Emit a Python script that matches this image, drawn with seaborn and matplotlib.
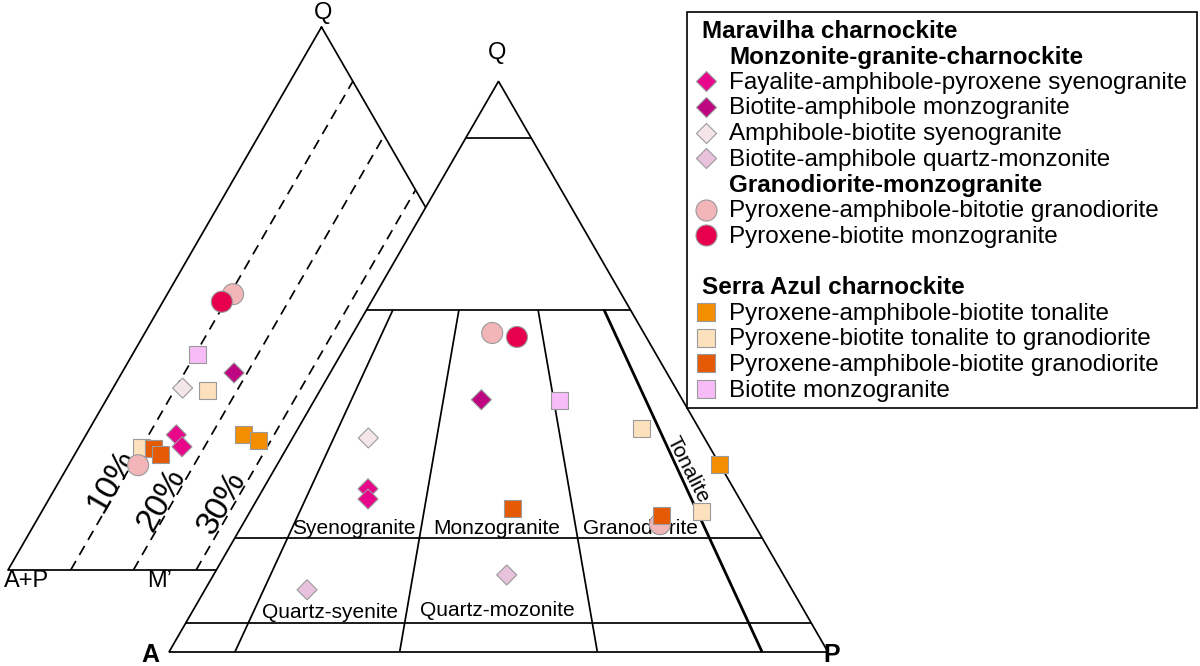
import numpy as np
import pandas as pd
import matplotlib
matplotlib.use("Agg")
import matplotlib.pyplot as plt
from matplotlib.patches import Polygon, Rectangle
import seaborn as sns

#rock types in legend order
rock_names = [
    "Fayalite-amphibole-pyroxene syenogranite",
    "Biotite-amphibole monzogranite",
    "Amphibole-biotite syenogranite",
    "Biotite-amphibole quartz-monzonite",
    "Pyroxene-amphibole-bitotie granodiorite",
    "Pyroxene-biotite monzogranite",
    "Pyroxene-amphibole-biotite tonalite",
    "Pyroxene-biotite tonalite to granodiorite",
    "Pyroxene-amphibole-biotite granodiorite",
    "Biotite monzogranite",
]
rock_colors = ["#E8068B", "#BD0680", "#F4E6E8", "#E8C2DC", "#F2B6B8",
               "#E6004E", "#F28E00", "#FCE1BC", "#E65A06", "#F7BBF7"]
rock_markers = ["D", "D", "D", "D", "o", "o", "s", "s", "s", "s"]
rock_sizes = [104, 104, 104, 104, 229, 229, 150, 150, 150, 150]

#QAP modal compositions (%), in drawing order
qap_rock = [7, 7, 4, 4, 5, 8, 8, 6, 9, 1, 2, 0, 0, 3, 3]
qap_q = [39.1, 24.7, 55.9, 22.4, 55.2, 25.1, 24.0, 32.8, 44.0, 44.2, 37.5, 28.6, 26.8, 13.5, 10.9]
qap_a = [8.7, 6.9, 23.0, 14.3, 19.6, 35.4, 13.2, 0.0, 18.7, 30.5, 51.0, 55.5, 56.4, 42.0, 73.6]
qap_p = [52.2, 68.4, 21.1, 63.3, 25.2, 39.5, 62.8, 67.2, 37.3, 25.3, 11.5, 15.9, 16.8, 44.5, 15.5]

#Q-(A+P)-M' compositions (%), in drawing order
qam_rock = [7, 7, 4, 4, 5, 8, 8, 6, 6, 9, 1, 2, 0, 0]
qam_q = [33.1, 22.5, 50.8, 19.3, 49.4, 22.3, 21.2, 24.9, 23.8, 39.6, 36.3, 33.5, 24.9, 22.7]
qam_ap = [51.6, 67.5, 38.7, 69.6, 41.2, 65.7, 65.0, 50.0, 48.1, 49.9, 45.8, 55.4, 60.7, 60.9]
qam_m = [15.3, 10.0, 10.5, 11.1, 9.4, 12.0, 13.8, 25.1, 28.1, 10.5, 17.9, 11.1, 14.4, 16.4]

#field boundaries
qap_q_lines = [90, 60, 20, 5]
qap_ratio_lines = [10, 35, 65, 90]
qam_m_lines = [10, 20, 30]

#triangle frames: left x, base y, side (pixels)
QAP_FRAME = (169, 652, 659)
QAM_FRAME = (8, 570, 627)


#top/right fractions in % -> pixel coords
def to_xy(top, right, frame):
    left, base, side = frame
    top = np.asarray(top, float) / 100
    right = np.asarray(right, float) / 100
    return left + side * (right + top / 2), base - side * np.sqrt(3) / 2 * top


def tri_line(ax, frame, p1, p2, **kw):
    x, y = to_xy([p1[0], p2[0]], [p1[1], p2[1]], frame)
    ax.plot(x, y, color="black", solid_capstyle="butt", **kw)


sns.set_style("white")
plt.rcParams["font.family"] = ["Liberation Sans", "DejaVu Sans"]
plt.rcParams["text.color"] = "black"

fig = plt.figure(figsize=(12, 6.66), dpi=100)
ax = fig.add_axes([0, 0, 1, 1])

palette = dict(zip(rock_names, rock_colors))
markers = dict(zip(rock_names, rock_markers))
sizes = dict(zip(rock_names, rock_sizes))

LW = 1.25

#Q-(A+P)-M' triangle, partly hidden behind QAP
x, y = to_xy([100, 0, 0, 100], [0, 0, 100, 0], QAM_FRAME)
ax.plot(x, y, color="black", lw=LW, zorder=1)
for m in qam_m_lines:
    tri_line(ax, QAM_FRAME, (0, m), (100 - m, m), lw=LW, linestyle=(0, (6, 4)), zorder=1)

#QAP triangle
x, y = to_xy([0, 0, 100], [0, 100, 0], QAP_FRAME)
ax.add_patch(Polygon(np.column_stack([x, y]), closed=True, facecolor="white",
                     edgecolor="black", lw=LW, zorder=2))
for q in qap_q_lines:
    tri_line(ax, QAP_FRAME, (q, 0), (q, 100 - q), lw=LW, zorder=3)
for r in qap_ratio_lines:
    tri_line(ax, QAP_FRAME, (60, r * 0.4), (0, r), lw=2.0 if r == 90 else LW, zorder=3)

#samples
qam_x, qam_y = to_xy(qam_q, qam_m, QAM_FRAME)
qap_x, qap_y = to_xy(qap_q, qap_p, QAP_FRAME)
points = pd.concat([
    pd.DataFrame({"x": qam_x, "y": qam_y, "rock": [rock_names[i] for i in qam_rock]}),
    pd.DataFrame({"x": qap_x, "y": qap_y, "rock": [rock_names[i] for i in qap_rock]}),
], ignore_index=True)
sns.scatterplot(data=points, x="x", y="y", hue="rock", style="rock", size="rock",
                palette=palette, markers=markers, sizes=sizes,
                edgecolor="#9a9a9a", linewidth=0.8, legend=False, ax=ax, zorder=4)

#labels
ax.text(323, 13, "Q", fontsize=17, ha="center", va="center")
ax.text(27, 581, "A+P", fontsize=17, ha="center", va="center")
ax.text(160, 581, "M\u2019", fontsize=17, ha="center", va="center")
ax.text(497, 53, "Q", fontsize=17, ha="center", va="center")
ax.text(150, 655, "A", fontsize=18, fontweight="bold", ha="center", va="center")
ax.text(832, 655, "P", fontsize=18, fontweight="bold", ha="center", va="center")
for label, (tx, ty) in zip(["10%", "20%", "30%"], [(112, 481), (162, 500), (222, 503)]):
    ax.text(tx, ty, label, fontsize=24, rotation=60, ha="center", va="center",
            rotation_mode="anchor", zorder=3.5)

fields = {
    "Syenogranite": (354, 528),
    "Monzogranite": (497, 528),
    "Granodiorite": (640, 529),
    "Quartz-syenite": (330, 612),
    "Quartz-mozonite": (497, 610),
}
for label, (tx, ty) in fields.items():
    ax.text(tx, ty, label, fontsize=15, ha="center", va="center", zorder=3.5)
ax.text(688, 470, "Tonalite", fontsize=15, rotation=-63, ha="center", va="center",
        rotation_mode="anchor", zorder=3.5)

#legend box
leg_rows = [
    ("Maravilha charnockite", "head"),
    ("Monzonite-granite-charnockite", "sub"),
    (0, "rock"), (1, "rock"), (2, "rock"), (3, "rock"),
    ("Granodiorite-monzogranite", "sub"),
    (4, "rock"), (5, "rock"),
    ("", "gap"),
    ("Serra Azul charnockite", "head"),
    (6, "rock"), (7, "rock"), (8, "rock"), (9, "rock"),
]
ax.add_patch(Rectangle((687, 12), 510, 396, facecolor="white", edgecolor="black",
                       lw=1.2, zorder=5))
for i, (item, kind) in enumerate(leg_rows):
    ry = 30 + i * 25.65
    if kind == "head":
        ax.text(702, ry + 1.5, item, fontsize=17.5, fontweight="bold", va="center", zorder=6)
    elif kind == "sub":
        ax.text(729, ry + 1.5, item, fontsize=17.5, fontweight="bold", va="center", zorder=6)
    elif kind == "rock":
        ax.scatter([706], [ry], marker=rock_markers[item], s=rock_sizes[item],
                   color=rock_colors[item], edgecolors="#9a9a9a", linewidths=0.8, zorder=6)
        ax.text(729, ry + 1.5, rock_names[item], fontsize=17.5, va="center", zorder=6)

ax.set_xlim(0, 1200)
ax.set_ylim(666, 0)
ax.axis("off")

fig.savefig("out.png", dpi=100)
